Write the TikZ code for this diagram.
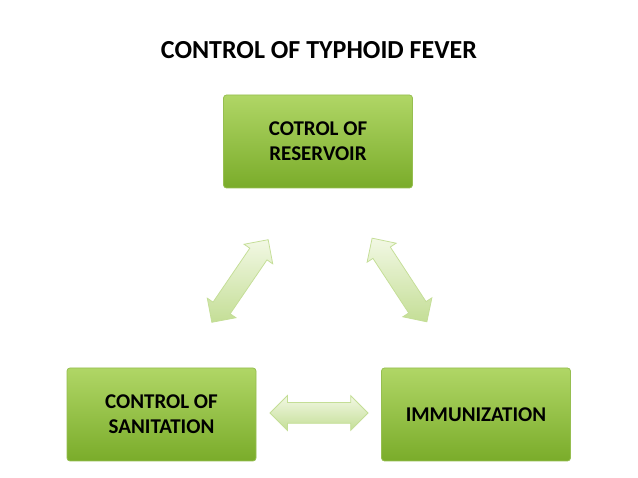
\documentclass[tikz,border=0pt]{standalone}
\usepackage{fontspec}
\setmainfont{Carlito}
\usetikzlibrary{shapes.arrows}
\definecolor{boxtop}{RGB}{176,214,102}
\definecolor{boxbot}{RGB}{122,172,42}
\definecolor{boxline}{RGB}{150,190,80}
\definecolor{arrlight}{RGB}{242,248,228}
\definecolor{arrdark}{RGB}{196,222,150}
\tikzset{every picture/.style={line width=0.75pt},
  box/.style={draw=boxline,rounded corners=3pt,top color=boxtop,bottom color=boxbot,
    minimum width=189pt,minimum height=93pt,align=center,font=\bfseries\fontsize{21}{25}\selectfont},
  link/.style={double arrow,draw=arrdark,top color=arrlight,bottom color=arrdark,
    minimum height=100pt,inner xsep=0pt,inner ysep=10pt,double arrow head extend=7pt}}
\begin{document}
\begin{tikzpicture}[x=1pt,y=1pt,yscale=-1,xscale=1]
\useasboundingbox (0,0) rectangle (638,478);
\fill[white] (0,0) rectangle (638,478);

% Title
\node (title) at (319,50) {\bfseries\fontsize{26}{30}\selectfont CONTROL OF TYPHOID FEVER};

% Boxes
\node[box] (reservoir) at (318,141.5) {COTROL OF\\RESERVOIR};
\node[box] (sanitation) at (161.5,414.5) {CONTROL OF\\SANITATION};
\node[box] (immunization) at (476,414.5) {IMMUNIZATION};

% Arrows
\node[link,rotate=55.7] (resSan) at (240,281) {};
\node[link,rotate=123.2] (resImm) at (399.5,280) {};
\node[link,minimum height=98pt] (sanImm) at (319,413) {};

\end{tikzpicture}
\end{document}
